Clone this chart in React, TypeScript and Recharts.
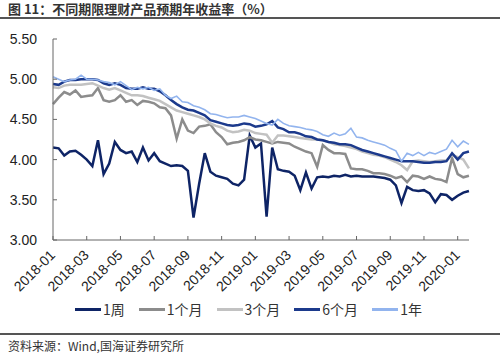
import { LineChart, Line, XAxis, YAxis } from "recharts";

// three readings a month (1st, 11th, 21st)
const months = [
  "2018-01", "2018-02", "2018-03", "2018-04", "2018-05", "2018-06", "2018-07", "2018-08", "2018-09", "2018-10", "2018-11", "2018-12",
  "2019-01", "2019-02", "2019-03", "2019-04", "2019-05", "2019-06", "2019-07", "2019-08", "2019-09", "2019-10", "2019-11", "2019-12",
  "2020-01",
];
const days = [1, 11, 21];

const week1 = [
  4.15, 4.14, 4.05, 4.10, 4.11, 4.06, 4.00, 3.92, 4.24, 3.82, 3.95, 4.22,
  4.12, 4.08, 4.10, 3.97, 4.15, 3.99, 4.08, 3.98, 3.95, 3.92, 3.93, 3.92,
  3.86, 3.28, 3.70, 4.08, 3.85, 3.80, 3.78, 3.76, 3.70, 3.68, 3.75, 4.30,
  4.15, 4.20, 3.29, 4.15, 3.88, 3.86, 3.85, 3.80, 3.62, 3.84, 3.64, 3.78,
  3.79, 3.78, 3.80, 3.79, 3.81, 3.79, 3.80, 3.79, 3.79, 3.79, 3.78, 3.77,
  3.75, 3.68, 3.46, 3.66, 3.62, 3.61, 3.62, 3.58, 3.47, 3.57, 3.56, 3.50,
  3.55, 3.59, 3.61,
];
const month1 = [
  4.69, 4.77, 4.84, 4.81, 4.86, 4.78, 4.79, 4.80, 4.89, 4.74, 4.72, 4.74,
  4.80, 4.72, 4.74, 4.68, 4.73, 4.72, 4.70, 4.65, 4.64, 4.55, 4.26, 4.50,
  4.36, 4.33, 4.41, 4.42, 4.44, 4.34, 4.28, 4.19, 4.21, 4.22, 4.24, 4.28,
  4.25, 4.24, 4.22, 4.20, 4.22, 4.21, 4.20, 4.16, 4.13, 4.10, 4.08, 3.91,
  4.18, 4.12, 4.08, 4.08, 4.07, 3.89, 3.88, 3.88, 3.86, 3.83, 3.83, 3.82,
  3.80, 3.77, 3.79, 3.72, 3.80, 3.79, 3.76, 3.79, 3.76, 3.75, 3.72, 4.02,
  3.82, 3.78, 3.80,
];
const month3 = [
  4.90, 4.89, 4.92, 4.93, 4.93, 4.93, 4.94, 4.95, 4.92, 4.89, 4.87, 4.89,
  4.86, 4.83, 4.80, 4.80, 4.79, 4.77, 4.75, 4.73, 4.69, 4.65, 4.61, 4.59,
  4.57, 4.55, 4.53, 4.50, 4.45, 4.42, 4.40, 4.36, 4.34, 4.35, 4.37, 4.36,
  4.33, 4.32, 4.31, 4.21, 4.30, 4.30, 4.29, 4.28, 4.27, 4.26, 4.25, 4.25,
  4.24, 4.22, 4.19, 4.18, 4.17, 4.15, 4.13, 4.10, 4.08, 4.06, 4.05, 4.03,
  4.00, 3.97, 3.93, 3.87, 3.98, 3.99, 3.98, 3.97, 3.98, 3.99, 3.99, 4.06,
  4.03, 4.00, 3.89,
];
const month6 = [
  4.94, 4.93, 4.97, 4.99, 4.99, 5.00, 5.00, 5.00, 4.99, 4.95, 4.93, 4.95,
  4.93, 4.89, 4.88, 4.88, 4.90, 4.88, 4.88, 4.85, 4.80, 4.74, 4.69, 4.65,
  4.62, 4.61, 4.58, 4.55, 4.49, 4.47, 4.45, 4.43, 4.42, 4.43, 4.45, 4.44,
  4.41, 4.42, 4.44, 4.48, 4.40, 4.38, 4.34, 4.34, 4.32, 4.29, 4.28, 4.25,
  4.24, 4.22, 4.21, 4.19, 4.19, 4.18, 4.15, 4.12, 4.10, 4.08, 4.06, 4.04,
  4.02, 4.00, 3.98, 3.98, 3.98, 3.97, 3.96, 3.96, 3.97, 3.97, 3.98, 4.08,
  4.00, 4.08, 4.10,
];
const year1 = [
  5.03, 5.00, 4.97, 4.99, 5.00, 5.05, 5.00, 5.00, 4.99, 4.97, 4.96, 4.93,
  4.97, 4.92, 4.87, 4.90, 4.88, 4.90, 4.86, 4.88, 4.80, 4.76, 4.79, 4.72,
  4.71, 4.67, 4.65, 4.62, 4.57, 4.56, 4.54, 4.52, 4.53, 4.53, 4.55, 4.53,
  4.51, 4.48, 4.45, 4.43, 4.50, 4.45, 4.42, 4.41, 4.40, 4.38, 4.37, 4.35,
  4.31, 4.29, 4.33, 4.30, 4.32, 4.39, 4.28, 4.27, 4.24, 4.22, 4.20, 4.18,
  4.14, 4.11, 3.98, 4.08, 4.05, 4.09, 4.05, 4.09, 4.07, 4.10, 4.13, 4.24,
  4.16, 4.23, 4.19,
];

const xTicks = [0, 2, 4, 6, 8, 10, 12, 14, 16, 18, 20, 22, 24];
const yTicks = [3.0, 3.5, 4.0, 4.5, 5.0, 5.5];

const series = [
  { key: "w1", name: "1周", values: week1, color: "#0e2466", width: 2.5 },
  { key: "m1", name: "1个月", values: month1, color: "#8c8c8c", width: 2.5 },
  { key: "m3", name: "3个月", values: month3, color: "#c2c2c2", width: 2.5 },
  { key: "m6", name: "6个月", values: month6, color: "#1c3a8c", width: 2.5 },
  { key: "y1", name: "1年", values: year1, color: "#92b4ee", width: 1.6 },
];

const data = months.flatMap((label, i) =>
  days.map((d, j) => {
    const row: Record<string, number | string> = {
      t: i + (d - 1) / 30,
      date: `${label}-${String(d).padStart(2, "0")}`,
    };
    series.forEach((s) => {
      row[s.key] = s.values[i * 3 + j];
    });
    return row;
  })
);

const axisColor = "#666";
const font = "'Liberation Sans', Arial, sans-serif";
const cjk = "'Noto Sans CJK SC', sans-serif";

const XTick = ({ x, y, payload }: any) => (
  <g>
    <line x1={x} x2={x} y1={y} y2={y - 4} stroke={axisColor} />
    <text
      transform={`translate(${x + 3},${y + 16}) rotate(-45)`}
      textAnchor="end"
      fontSize={14}
      fontFamily={font}
      fill="#222"
    >
      {months[payload.value]}
    </text>
  </g>
);

const YTick = ({ x, y, payload }: any) => (
  <g>
    <line x1={x} x2={x + 4} y1={y} y2={y} stroke={axisColor} />
    <text x={x - 16} y={y} dy="0.35em" textAnchor="end" fontSize={14} fontFamily={font} fill="#222">
      {payload.value.toFixed(2)}
    </text>
  </g>
);

const App = () => {
  return (
    <div style={{ position: "absolute", left: 0, top: 0, width: 500, height: 356, background: "#fff" }}>
      <div
        style={{
          position: "absolute",
          left: 8,
          top: 0,
          fontFamily: cjk,
          fontSize: 13,
          fontWeight: 700,
          lineHeight: "18px",
          color: "#333",
          whiteSpace: "nowrap",
        }}
      >
        图 11：不同期限理财产品预期年收益率（%）
      </div>
      <div style={{ position: "absolute", left: 0, top: 17, width: 500, height: 1.5, background: "#555" }} />

      <div style={{ position: "absolute", left: 0, top: 0 }}>
        <LineChart width={500} height={301} data={data} margin={{ top: 39, right: 31, bottom: 1, left: 0 }}>
          <XAxis
            dataKey="t"
            type="number"
            domain={[0, 24.67]}
            ticks={xTicks}
            interval={0}
            height={60}
            stroke={axisColor}
            tickLine={false}
            tickSize={0}
            tickMargin={0}
            tick={<XTick />}
          />
          <YAxis
            type="number"
            domain={[3, 5.5]}
            ticks={yTicks}
            interval={0}
            width={53}
            stroke={axisColor}
            tickLine={false}
            tickSize={0}
            tickMargin={0}
            tick={<YTick />}
          />
          {series.map((s) => (
            <Line
              key={s.key}
              dataKey={s.key}
              name={s.name}
              stroke={s.color}
              strokeWidth={s.width}
              dot={false}
              type="linear"
              isAnimationActive={false}
            />
          ))}
        </LineChart>
      </div>

      <div
        style={{
          position: "absolute",
          left: 75,
          top: 300,
          display: "flex",
          gap: 14,
          alignItems: "center",
          fontFamily: cjk,
          fontSize: 14,
          color: "#333",
          lineHeight: "18px",
        }}
      >
        {series.map((s) => (
          <div key={s.key} style={{ display: "flex", alignItems: "center", gap: 2 }}>
            <span style={{ display: "inline-block", width: 26, height: 3, background: s.color }} />
            <span>{s.name}</span>
          </div>
        ))}
      </div>

      <div style={{ position: "absolute", left: 0, top: 333, width: 500, height: 1.5, background: "#555" }} />
      <div
        style={{
          position: "absolute",
          left: 8,
          top: 338,
          fontFamily: cjk,
          fontSize: 12,
          lineHeight: "16px",
          color: "#333",
          whiteSpace: "nowrap",
        }}
      >
        资料来源：Wind,国海证券研究所
      </div>
    </div>
  );
};

export default App;
